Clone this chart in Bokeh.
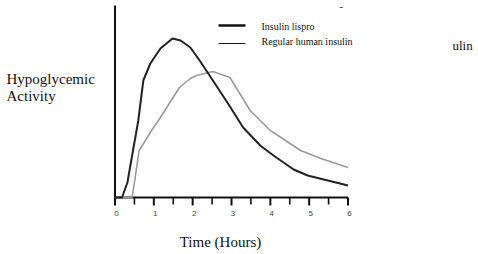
from bokeh.plotting import figure
from bokeh.models import Range1d
from bokeh.core.properties import value
from bokeh.embed import file_html
from bokeh.resources import INLINE

# Data (time in hours, relative hypoglycemic activity)
lispro_t = [0, 0.18, 0.32, 0.45, 0.6, 0.73, 0.91, 1.17, 1.48, 1.69, 1.94, 2.18, 2.52, 2.91, 3.3, 3.74, 4.08, 4.6, 4.96, 6.0]
lispro_a = [0, 0, 15, 44, 77, 117, 134, 149, 159, 157, 150, 137, 117, 94, 70, 52, 42, 28, 22, 12]
regular_t = [0, 0.44, 0.52, 0.62, 0.75, 0.94, 1.12, 1.66, 1.94, 2.1, 2.52, 2.96, 3.48, 4.0, 4.78, 5.3, 6.0]
regular_a = [0, 0, 20, 47, 55, 67, 77, 110, 119, 122, 126, 120, 87, 67, 47, 39, 30]
major_ticks = [0, 1, 2, 3, 4, 5, 6]
minor_ticks = [0.5, 1.5, 2.5, 3.5, 4.5, 5.5]
tick_labels = ["0", "1", "2", "3", "4", "5", "6"]
series_names = ["Insulin lispro", "Regular human insulin"]

W, H = 478, 254
X0, X6 = 114.5, 347.5
PPH = (X6 - X0) / 6.0
BASE = 197.0

def dx(px):
    return (px - X0) / PPH

def dy(py):
    return BASE - py

p = figure(width=W, height=H, output_backend="svg", toolbar_location=None,
           x_range=Range1d(dx(0), dx(W)), y_range=Range1d(dy(H), dy(0)),
           min_border=0, outline_line_color=None)
p.axis.visible = False
p.grid.visible = False
p.background_fill_color = "white"
p.border_fill_color = "white"

serif = value("Liberation Serif")
sans = value("Liberation Sans")

# axes
p.segment(x0=[0], y0=[0], x1=[0], y1=[dy(5)], line_color="#111111", line_width=2)
p.segment(x0=[0], y0=[0], x1=[6], y1=[0], line_color="#111111", line_width=2)
p.segment(x0=major_ticks, y0=[0]*7, x1=major_ticks, y1=[dy(205)]*7, line_color="#111111", line_width=2)
p.segment(x0=minor_ticks, y0=[0]*6, x1=minor_ticks, y1=[dy(204)]*6, line_color="#111111", line_width=1.6)
p.text(x=[t + dx(116) for t in major_ticks], y=[dy(213)]*7, text=tick_labels, text_font=sans,
       text_font_size="8px", text_color="#444444", text_align="center", text_baseline="middle")

# curves
p.line(regular_t, regular_a, line_color="#9a9a9a", line_width=1.6, line_join="round")
p.line(lispro_t, lispro_a, line_color="#222222", line_width=2, line_join="round")

# legend
p.segment(x0=[dx(218)], y0=[dy(25)], x1=[dx(245)], y1=[dy(25)], line_color="#111111", line_width=2.5)
p.segment(x0=[dx(218)], y0=[dy(43)], x1=[dx(245)], y1=[dy(43)], line_color="#111111", line_width=1)
p.text(x=[dx(261)]*2, y=[dy(26), dy(41)], text=series_names, text_font=serif,
       text_font_size="10px", text_color="#111111", text_baseline="middle")

# labels
p.text(x=[dx(6)]*2, y=[dy(78), dy(95)], text=["Hypoglycemic", "Activity"], text_font=serif,
       text_font_size="15px", text_color="#111111", text_baseline="middle")
p.text(x=[dx(220)], y=[dy(241)], text=["Time (Hours)"], text_font=serif,
       text_font_size="15px", text_color="#111111", text_align="center", text_baseline="middle")
p.text(x=[dx(452)], y=[dy(45)], text=["ulin"], text_font=serif,
       text_font_size="13px", text_color="#111111", text_baseline="middle")
p.text(x=[dx(339)], y=[dy(6)], text=["-"], text_font=serif,
       text_font_size="10px", text_color="#111111", text_baseline="middle")

open("out.html", "w").write(file_html(p, INLINE))
